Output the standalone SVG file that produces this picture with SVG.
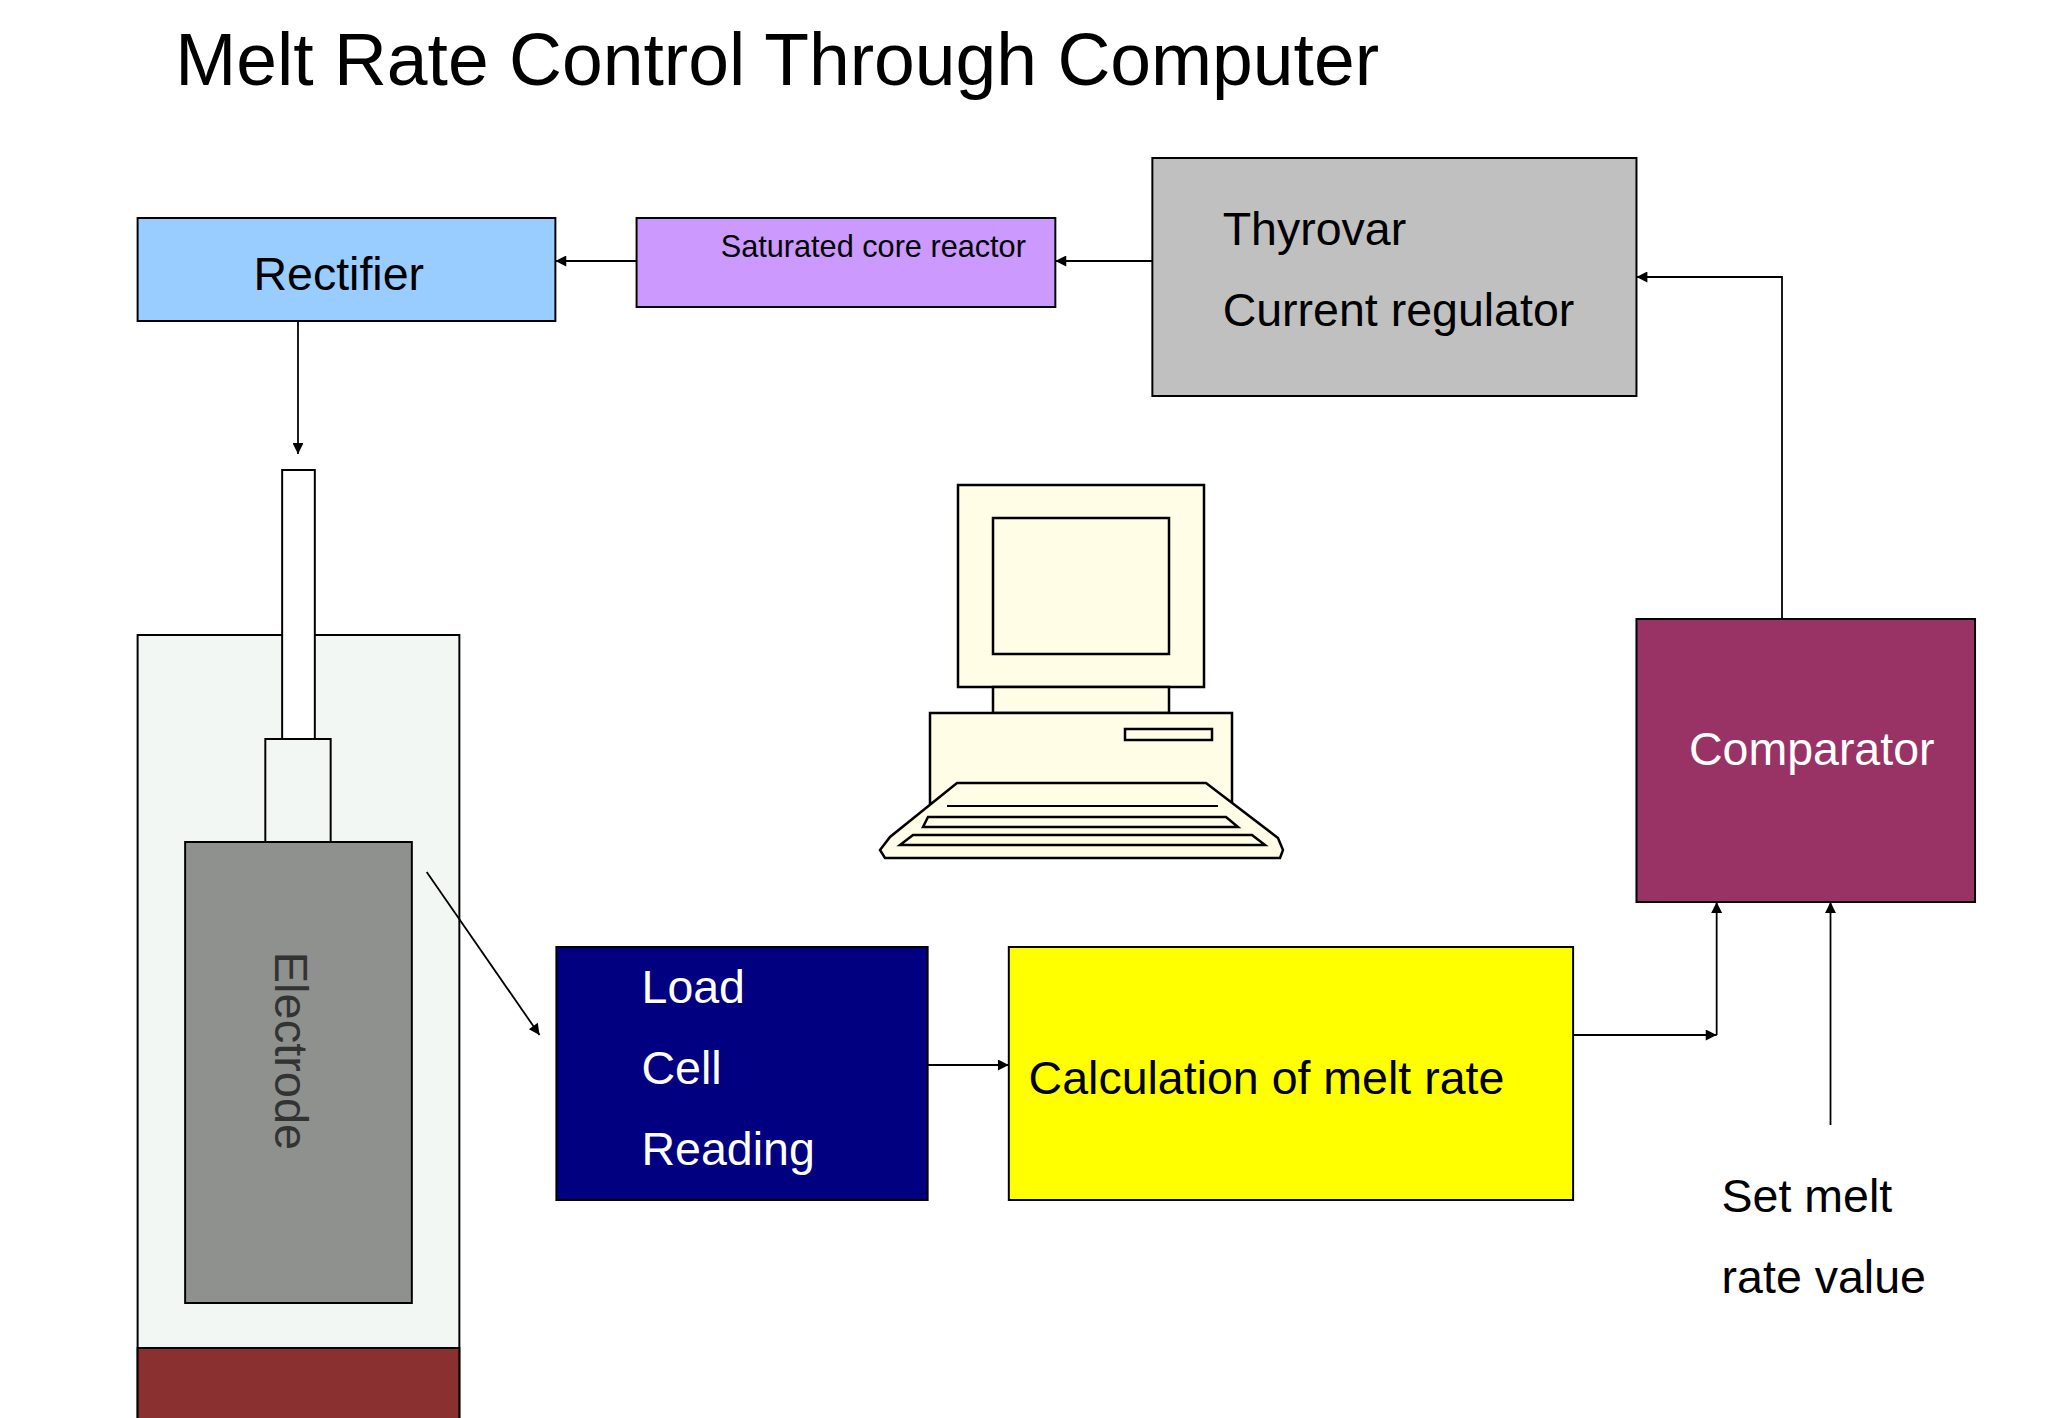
<svg xmlns="http://www.w3.org/2000/svg" width="2048" height="1418" viewBox="0 0 2048 1418">
<style>
text{font-family:"Liberation Sans",Arial,sans-serif;}
.b{stroke:#000;stroke-width:2}
.c{fill:#FFFDE6;stroke:#000;stroke-width:2.5}
.ln{fill:none;stroke:#000;stroke-width:1.8}
</style>
<defs><marker id="a" viewBox="0 0 10 10" refX="10" refY="5" markerWidth="13" markerHeight="11" orient="auto" markerUnits="userSpaceOnUse"><path d="M0,0L10,5L0,10z" fill="#000"/></marker></defs>
<rect width="2048" height="1418" fill="#fff"/>
<g transform="scale(0.99 1)">
<text x="177" y="85" font-size="74">Melt Rate Control Through Computer</text>
<g id="rectifier"><rect class="b" x="139" y="218" width="422" height="103" fill="#99CCFF"/><text x="256" y="290" font-size="47">Rectifier</text></g>
<g id="reactor"><rect class="b" x="643" y="218" width="423" height="89" fill="#CC99FF"/><text x="728" y="257" font-size="31">Saturated core reactor</text></g>
<g id="thyrovar"><rect class="b" x="1164" y="158" width="489" height="238" fill="#C0C0C0"/><text x="1235" y="245" font-size="47">Thyrovar</text><text x="1235" y="326" font-size="47">Current regulator</text></g>
<g id="comparator"><rect class="b" x="1653" y="619" width="342" height="283" fill="#993366"/><text x="1706" y="765" font-size="47" fill="#fff">Comparator</text></g>
<g id="loadcell"><rect class="b" x="562" y="947" width="375" height="253" fill="#000080"/><text x="648" y="1003" font-size="47" fill="#fff">Load</text><text x="648" y="1084" font-size="47" fill="#fff">Cell</text><text x="648" y="1165" font-size="47" fill="#fff">Reading</text></g>
<g id="calc"><rect class="b" x="1019" y="947" width="570" height="253" fill="#FFFF00"/><text x="1039" y="1094" font-size="47">Calculation of melt rate</text></g>
<g id="setmelt"><text x="1739" y="1212" font-size="47">Set melt</text><text x="1739" y="1293" font-size="47">rate value</text></g>
<g id="furnace">
<rect class="b" x="139" y="635" width="325" height="800" fill="#F2F7F4"/>
<rect class="b" x="139" y="1348" width="325" height="80" fill="#8B3030"/>
<rect class="b" x="285" y="470" width="33" height="269" fill="#fff"/>
<rect class="b" x="268" y="739" width="66" height="103" fill="#F2F7F4"/>
<rect class="b" x="187" y="842" width="229" height="461" fill="#8E918E"/>
<text transform="translate(278,1051) rotate(90)" text-anchor="middle" font-size="47" fill="#333">Electrode</text>
</g>
<g id="connectors" class="ln" marker-end="url(#a)">
<path d="M643,261L561,261"/>
<path d="M1164,261L1066,261"/>
<path d="M301,321L301,454"/>
<path d="M1800,619L1800,277L1653,277"/>
<path d="M431,872L545,1035"/>
<path d="M937,1065L1019,1065"/>
<path d="M1589,1035L1734,1035"/>
<path d="M1734,1035L1734,902"/>
<path d="M1849,1125L1849,902"/>
</g>
</g>
<g id="computer">
<rect class="c" x="958" y="485" width="246" height="202"/>
<rect class="c" x="993" y="518" width="176" height="136"/>
<rect class="c" x="993" y="687" width="176" height="26"/>
<rect class="c" x="930" y="713" width="302" height="90"/>
<rect class="c" x="1125" y="729" width="87" height="11"/>
<path class="c" d="M957,783L1206,783L1278,838L1283,850L1280,858L885,858L880,850L890,837Z"/>
<path class="ln" d="M947,806L1218,806"/>
<path class="c" d="M928,817L1226,817L1238,827L923,827Z"/>
<path class="c" d="M913,835L1252,835L1265,845L900,845Z"/>
</g>
</svg>
